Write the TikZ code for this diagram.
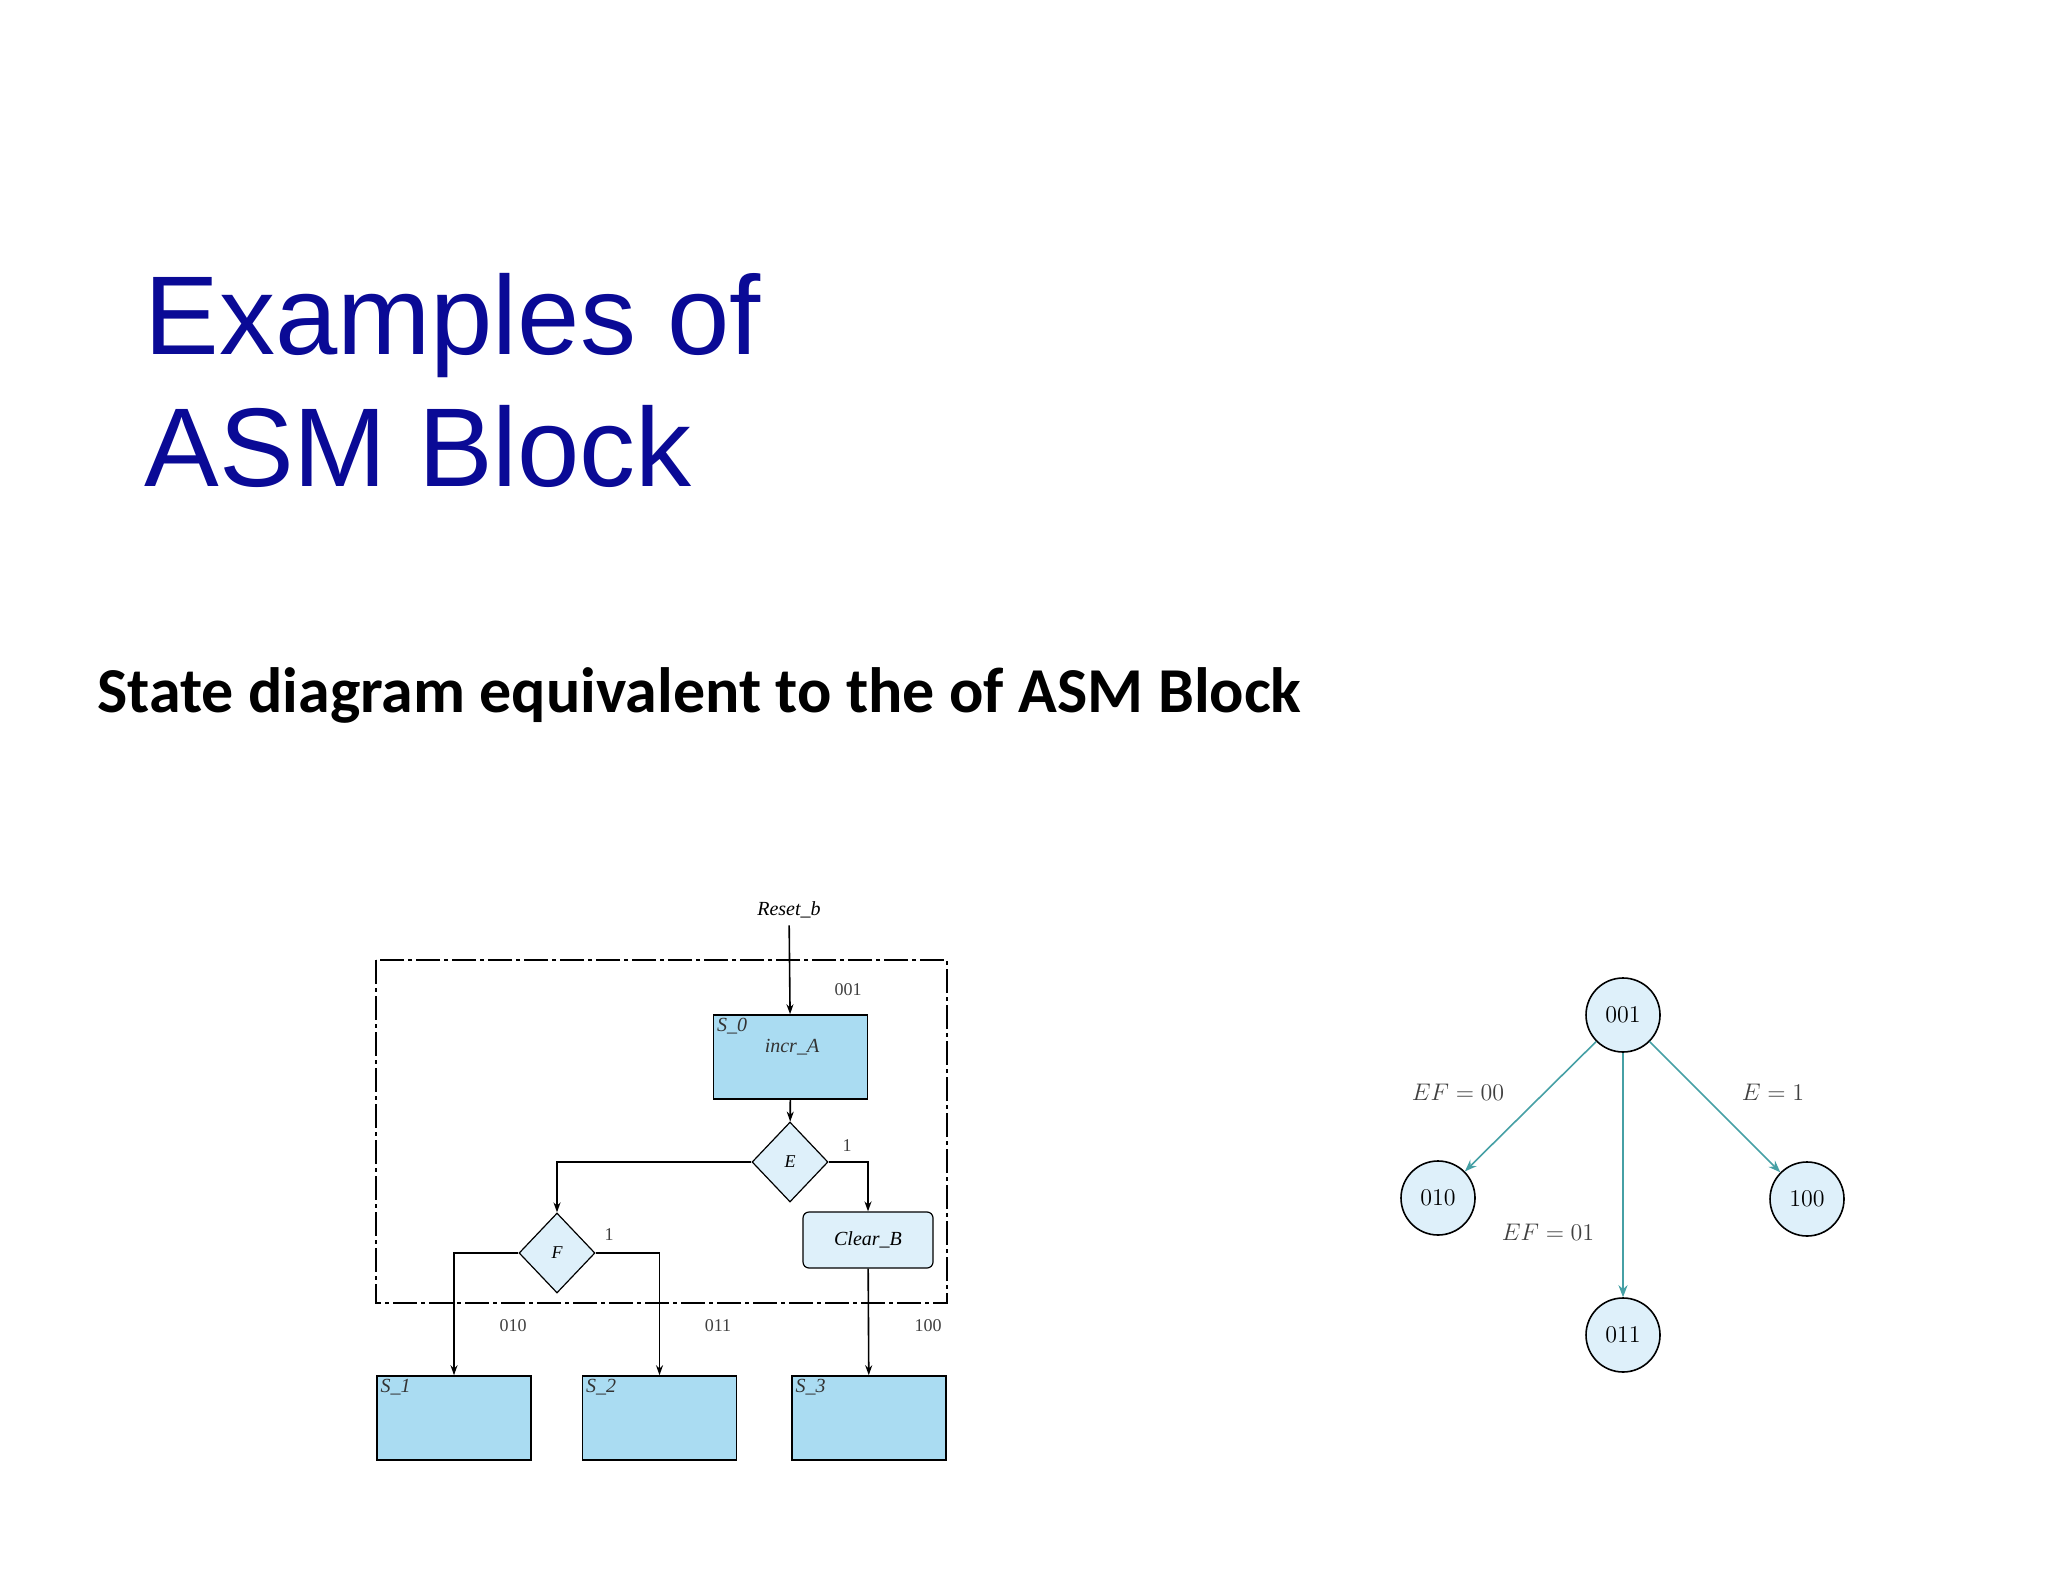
\documentclass[tikz,border=0pt]{standalone}
\usepackage{fontspec}
\setmainfont{Liberation Serif}
\newfontfamily\titlefont{Liberation Sans}
\newfontfamily\subfont{Carlito}
\usetikzlibrary{shapes.geometric,arrows.meta}
\definecolor{ttl}{RGB}{10,10,150}
\definecolor{boxblue}{RGB}{170,220,242}
\definecolor{lightblue}{RGB}{222,240,250}
\definecolor{teal}{RGB}{70,160,165}
\tikzset{
  stbox/.style={draw,fill=boxblue,line width=0.8pt,minimum width=77pt,minimum height=42pt,inner sep=0pt},
  dec/.style={draw,diamond,fill=lightblue,line width=0.6pt,minimum width=38pt,minimum height=40pt,inner sep=0pt,font=\itshape\small},
  cond/.style={draw,rounded corners=3pt,fill=lightblue,line width=0.6pt,minimum width=65pt,minimum height=28pt,font=\itshape},
  flow/.style={line width=0.8pt,-{Stealth[length=5pt,width=3.5pt]}},
  code/.style={font=\small,text=black!75},
  st/.style={draw,circle,fill=lightblue,line width=0.8pt,minimum size=37pt,inner sep=0pt,font=\fontfamily{lmr}\selectfont\large},
  tr/.style={teal,line width=0.8pt,-{Stealth[length=6pt,width=4.5pt]}},
  lab/.style={font=\large,text=black!75}
}
\begin{document}
\begin{tikzpicture}[x=0.5pt,y=-0.5pt]
\useasboundingbox (0,0) rectangle (2048,1582);
\fill[white] (0,0) rectangle (2048,1582);
% titles
\node[anchor=base west,font=\titlefont\fontsize{56}{66}\selectfont,text=ttl,inner sep=0pt] at (144,355) {Examples of};
\node[anchor=base west,font=\titlefont\fontsize{56}{66}\selectfont,text=ttl,inner sep=0pt] at (144,487) {ASM Block};
\node[anchor=base west,font=\subfont\bfseries\fontsize{32}{38}\selectfont,inner sep=0pt] at (97,712) {State diagram equivalent to the of ASM Block};
% ASM chart
\draw[line width=0.8pt,dash pattern=on 12pt off 2pt on 2pt off 2pt] (376,960) rectangle (947,1303);
\node[font=\itshape] (rst) at (789,910) {Reset\_b};
\node[stbox,minimum width=77pt,minimum height=42pt] (s0) at (790.5,1057) {};
\node[anchor=north west,font=\itshape,text=black!80,inner sep=2pt] (s0l) at (s0.north west) {S\_0};
\node[font=\itshape,text=black!80] (incr) at (792,1047) {incr\_A};
\node[code] (c001) at (848,990) {001};
\node[dec] (e) at (790,1162) {E};
\node[code] (e1) at (847,1146) {1};
\node[cond] (clr) at (868,1240) {Clear\_B};
\node[dec] (f) at (557,1253) {F};
\node[code] (f1) at (609,1235) {1};
\node[stbox] (s1) at (454,1418) {};
\node[stbox] (s2) at (659.5,1418) {};
\node[stbox] (s3) at (869,1418) {};
\node[anchor=north west,font=\itshape,text=black!80,inner sep=2pt] (s1l) at (s1.north west) {S\_1};
\node[anchor=north west,font=\itshape,text=black!80,inner sep=2pt] (s2l) at (s2.north west) {S\_2};
\node[anchor=north west,font=\itshape,text=black!80,inner sep=2pt] (s3l) at (s3.north west) {S\_3};
\node[code] (c010) at (513,1326) {010};
\node[code] (c011) at (718,1326) {011};
\node[code] (c100) at (928,1326) {100};
\draw[flow] (rst) -- (s0);
\draw[flow] (s0) -- (e);
\draw[flow] (e.east) -| (clr.north);
\draw[flow] (e.west) -| (f.north);
\draw[flow] (f.west) -| (s1.north);
\draw[flow] (f.east) -| (s2.north);
\draw[flow] (clr) -- (s3);
% state diagram
\node[st] (n001) at (1623,1015) {001};
\node[st] (n010) at (1438,1198) {010};
\node[st] (n100) at (1807,1199) {100};
\node[st] (n011) at (1623,1335) {011};
\draw[tr] (n001) -- (n010);
\draw[tr] (n001) -- (n100);
\draw[tr,line width=1.2pt] (n001) -- (n011);
\node[lab] (l1) at (1458,1092) {$EF=00$};
\node[lab] (l2) at (1773,1092) {$E=1$};
\node[lab] (l3) at (1548,1232) {$EF=01$};
\end{tikzpicture}
\end{document}
